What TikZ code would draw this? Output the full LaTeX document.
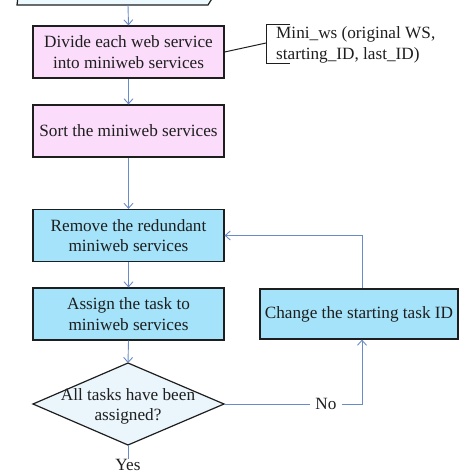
\documentclass[tikz,border=0pt]{standalone}
\usepackage{fontspec}
\setmainfont{Liberation Serif}
\usetikzlibrary{arrows.meta}
\definecolor{pinkfill}{RGB}{251,221,251}
\definecolor{bluefill}{RGB}{165,227,250}
\definecolor{lightfill}{RGB}{234,245,252}
\definecolor{topfill}{RGB}{236,250,255}
\definecolor{arrowcol}{RGB}{105,140,200}
\definecolor{edgecol}{RGB}{30,30,30}
\tikzset{
  boxbase/.style={draw=edgecol, line width=1.2pt, minimum width=191pt, inner sep=0pt,
    align=center, text=edgecol, font=\fontsize{17.2}{20.5}\selectfont},
  pinkbox/.style={boxbase, fill=pinkfill, minimum height=52pt},
  bluebox/.style={boxbase, fill=bluefill, minimum height=52pt},
  flow/.style={draw=arrowcol, line width=0.9pt, -{Straight Barb[length=5pt,width=9pt]}},
  flowline/.style={draw=arrowcol, line width=0.9pt},
  plaintext/.style={inner sep=0pt, text=edgecol, font=\fontsize{17.2}{20.5}\selectfont}
}
\begin{document}
\begin{tikzpicture}[x=1pt,y=-1pt]
\useasboundingbox (0,0) rectangle (474,474);
% top (cut off) shape
\path[fill=topfill, draw=edgecol, line width=1.2pt] (18,-3) -- (17,5) -- (208,5) -- (213,-3);
\coordinate (topb) at (128,5);
% boxes
\node[pinkbox] (divide) at (128.5,52) {Divide each web service\\into miniweb services};
\node[pinkbox] (sort) at (128.5,131) {Sort the miniweb services};
\node[bluebox] (remove) at (128.5,235.5) {Remove the redundant\\miniweb services};
\node[bluebox] (assign) at (128.5,314) {Assign the task to\\miniweb services};
\node[boxbase, fill=bluefill, minimum width=198pt, minimum height=50pt] (change) at (359,314) {Change the starting task ID};
% diamond
\coordinate (dtop) at (128,363);
\coordinate (dleft) at (33,404);
\coordinate (dright) at (224,404);
\coordinate (dbot) at (128,445);
\path[fill=lightfill, draw=edgecol, line width=1.2pt] (dtop) -- (dright) -- (dbot) -- (dleft) -- cycle;
\node[plaintext, align=center] (decide) at (128,406.5) {All tasks have been\\assigned?};
% annotation
\coordinate (brtop) at (266,24);
\coordinate (brbot) at (266,63);
\coordinate (brmid) at (266,43);
\draw[edgecol, line width=1pt] (290,24) -- (brtop) -- (brbot) -- (290,63);
\draw[edgecol, line width=1pt] (divide.east |- 0,52) -- (brmid);
\node[plaintext, align=left, anchor=west] (note) at (276,45) {Mini\_ws (original WS,\\starting\_ID, last\_ID)};
% flow arrows
\draw[flow] (topb) -- (divide.north);
\draw[flow] (divide.south) -- (sort.north);
\draw[flow] (sort.south) -- (remove.north);
\draw[flow] (remove.south) -- (assign.north);
\draw[flow] (assign.south) -- (dtop);
\draw[flow] (change.north -| 362,0) |- (remove.east);
\node[plaintext, anchor=center] (no) at (326,404) {No};
\draw[flowline] (dright) -- ([xshift=-5pt]no.west);
\draw[flow] ([xshift=5pt]no.east) -| (change.south -| 362,0);
\node[plaintext] (yes) at (128,465) {Yes};
\draw[flowline] (dbot) -- (yes.north);
\end{tikzpicture}
\end{document}
